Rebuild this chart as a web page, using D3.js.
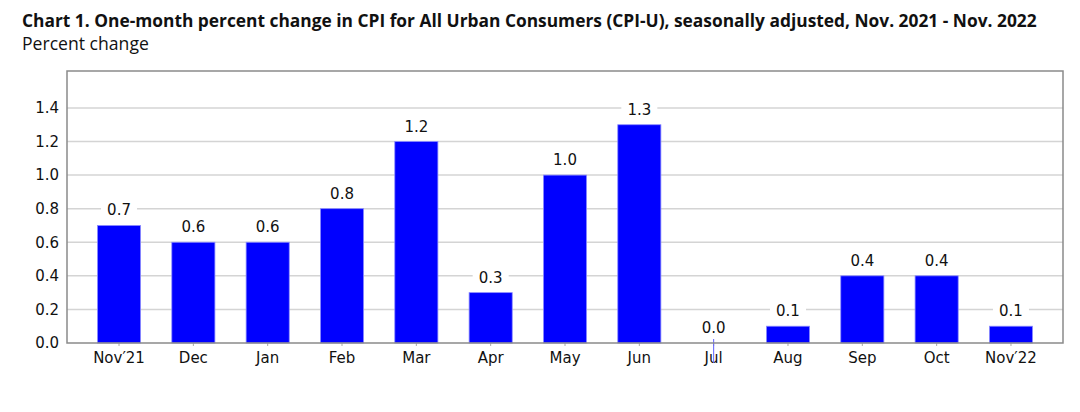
<!DOCTYPE html>
<html>
<head>
<meta charset="utf-8">
<script src="https://cdn.jsdelivr.net/npm/d3@7"></script>
<style>
  body { margin: 0; background: #fff; }
  svg text { font-family: "DejaVu Sans", Verdana, sans-serif; fill: #111; }
  .title { font-family: "Open Sans", "Noto Sans", sans-serif; font-weight: bold; font-size: 17.35px; }
  .subtitle { font-family: "Open Sans", "Noto Sans", sans-serif; font-size: 17.6px; }
</style>
</head>
<body>
<div id="chart"></div>
<script>
// Chart data
var months = ["Nov'21", "Dec", "Jan", "Feb", "Mar", "Apr", "May", "Jun", "Jul", "Aug", "Sep", "Oct", "Nov'22"];
var monthLabels = ["Nov\u203221", "Dec", "Jan", "Feb", "Mar", "Apr", "May", "Jun", "Jul", "Aug", "Sep", "Oct", "Nov\u203222"];
var pctChange = [0.7, 0.6, 0.6, 0.8, 1.2, 0.3, 1.0, 1.3, 0.0, 0.1, 0.4, 0.4, 0.1];
var yTicks = [0.0, 0.2, 0.4, 0.6, 0.8, 1.0, 1.2, 1.4];

var svgWidth = 1080;
var svgHeight = 412;

var margin = { top: 71, right: 17, bottom: 69, left: 67 };
var chartWidth = svgWidth - margin.left - margin.right;
var chartHeight = svgHeight - margin.top - margin.bottom;

var svg = d3.select("#chart").append("svg")
    .attr("width", svgWidth)
    .attr("height", svgHeight);

// Titles
svg.append("text")
    .attr("class", "title")
    .attr("x", 22)
    .attr("y", 27)
    .text("Chart 1. One-month percent change in CPI for All Urban Consumers (CPI-U), seasonally adjusted, Nov. 2021 - Nov. 2022");

svg.append("text")
    .attr("class", "subtitle")
    .attr("x", 22)
    .attr("y", 50)
    .text("Percent change");

var chartGroup = svg.append("g")
    .attr("transform", `translate(${margin.left}, ${margin.top})`);

var xBand = d3.scaleBand()
    .domain(months)
    .range([0, chartWidth])
    .paddingInner(0.42)
    .paddingOuter(0.41);

var yLinear = d3.scaleLinear()
    .domain([0, 1.62])
    .range([chartHeight, 0]);

// gridlines
chartGroup.selectAll("line.grid")
    .data(yTicks.slice(1))
    .enter()
    .append("line")
    .attr("class", "grid")
    .attr("x1", 0)
    .attr("x2", chartWidth)
    .attr("y1", d => yLinear(d))
    .attr("y2", d => yLinear(d))
    .attr("stroke", "#d4d4d4")
    .attr("stroke-width", 1.5);

// y axis labels
var leftAxis = d3.axisLeft(yLinear)
    .tickValues(yTicks)
    .tickFormat(d3.format(".1f"))
    .tickSize(0)
    .tickPadding(8);

var yAxisG = chartGroup.append("g").call(leftAxis);
yAxisG.select(".domain").remove();
yAxisG.selectAll("text")
    .style("font-family", "'DejaVu Sans', Verdana, sans-serif")
    .style("font-size", "15px")
    .attr("fill", "#111");

// x axis
var bottomAxis = d3.axisBottom(xBand)
    .tickFormat((d, i) => monthLabels[i])
    .tickSize(3)
    .tickPadding(6);

var xAxisG = chartGroup.append("g")
    .attr("transform", `translate(0, ${chartHeight})`)
    .call(bottomAxis);
xAxisG.select(".domain").remove();
xAxisG.selectAll("line").attr("stroke", "#aaa");
xAxisG.selectAll("text")
    .style("font-family", "'DejaVu Sans', Verdana, sans-serif")
    .style("font-size", "15px")
    .attr("fill", "#111");

// bars
chartGroup.selectAll("rect.bar")
    .data(pctChange)
    .enter()
    .append("rect")
    .attr("class", "bar")
    .attr("x", (d, i) => xBand(months[i]))
    .attr("y", d => yLinear(d))
    .attr("width", xBand.bandwidth())
    .attr("height", d => chartHeight - yLinear(d))
    .attr("fill", "#0000ff")
    .attr("stroke", "#8c8cff")
    .attr("stroke-width", 0.8);

// zero-value bars show as a thin blue mark
chartGroup.selectAll("line.zero")
    .data(pctChange.map((d, i) => ({ v: d, m: months[i] })).filter(d => d.v === 0))
    .enter()
    .append("line")
    .attr("class", "zero")
    .attr("x1", d => xBand(d.m) + xBand.bandwidth() / 2)
    .attr("x2", d => xBand(d.m) + xBand.bandwidth() / 2)
    .attr("y1", d => yLinear(d.v) - 4)
    .attr("y2", chartHeight + 20)
    .attr("stroke", "#6060ff")
    .attr("stroke-width", 1);

// value labels with white boxes
var labels = chartGroup.selectAll("g.vlabel")
    .data(pctChange)
    .enter()
    .append("g")
    .attr("class", "vlabel")
    .attr("transform", (d, i) => `translate(${xBand(months[i]) + xBand.bandwidth() / 2}, ${yLinear(d) - 10})`);

labels.append("rect")
    .attr("x", -18)
    .attr("y", -15)
    .attr("width", 36)
    .attr("height", 19)
    .attr("fill", "#fff");

labels.append("text")
    .attr("text-anchor", "middle")
    .style("font-size", "15px")
    .text(d => d3.format(".1f")(d));

// plot border
chartGroup.append("rect")
    .attr("x", 0)
    .attr("y", 0)
    .attr("width", chartWidth)
    .attr("height", chartHeight)
    .attr("fill", "none")
    .attr("stroke", "#8a8a8a")
    .attr("stroke-width", 1.5);
</script>
</body>
</html>
